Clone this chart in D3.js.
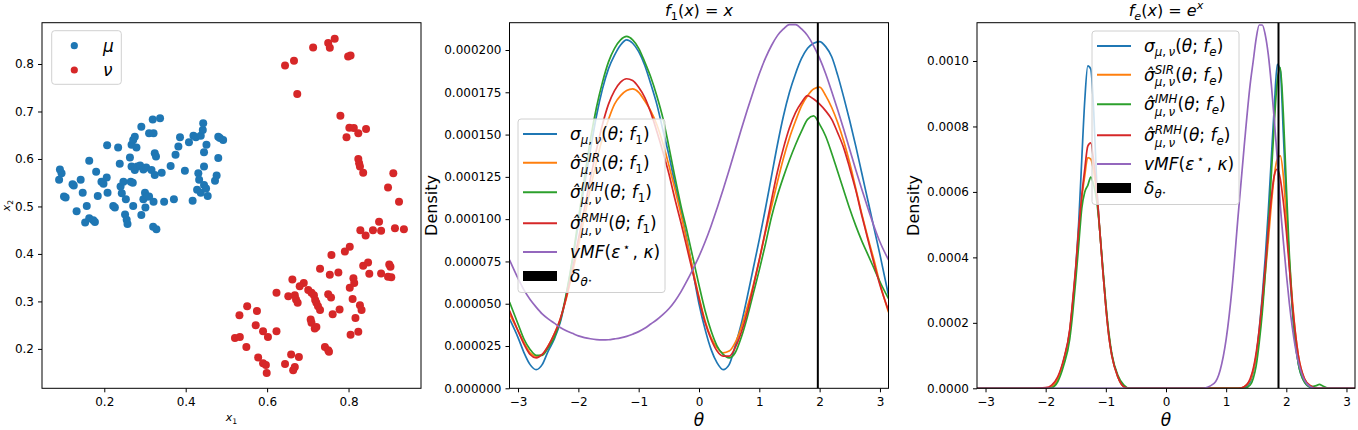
<!DOCTYPE html>
<html><head><meta charset="utf-8">
<script src="https://cdn.jsdelivr.net/npm/d3@7"></script>
<style>
body{margin:0;background:#fff}
text{font-family:"DejaVu Sans",sans-serif;fill:#000;white-space:pre}
</style>
</head><body>
<svg id="c" width="1358" height="430"></svg>
<script>
// ---------------- DATA ----------------
const muPoints = [[0.091,0.578],[0.095,0.570],[0.089,0.556],[0.101,0.521],[0.105,0.519],[0.122,0.547],[0.125,0.544],[0.142,0.556],[0.147,0.529],[0.132,0.490],[0.157,0.501],[0.153,0.466],[0.163,0.475],[0.173,0.471],[0.177,0.467],[0.163,0.596],[0.180,0.573],[0.184,0.522],[0.193,0.552],[0.207,0.629],[0.206,0.561],[0.208,0.529],[0.198,0.548],[0.222,0.501],[0.226,0.498],[0.234,0.624],[0.238,0.590],[0.240,0.542],[0.243,0.528],[0.247,0.552],[0.253,0.515],[0.251,0.483],[0.255,0.472],[0.257,0.463],[0.263,0.603],[0.267,0.584],[0.265,0.552],[0.270,0.550],[0.271,0.501],[0.267,0.630],[0.271,0.640],[0.275,0.647],[0.279,0.624],[0.275,0.577],[0.281,0.584],[0.291,0.668],[0.288,0.586],[0.291,0.482],[0.296,0.578],[0.303,0.582],[0.300,0.529],[0.296,0.515],[0.301,0.498],[0.306,0.521],[0.310,0.521],[0.316,0.577],[0.319,0.683],[0.310,0.654],[0.321,0.654],[0.324,0.612],[0.327,0.605],[0.324,0.566],[0.321,0.510],[0.320,0.457],[0.328,0.452],[0.337,0.686],[0.341,0.571],[0.347,0.510],[0.363,0.585],[0.371,0.515],[0.375,0.609],[0.382,0.626],[0.386,0.646],[0.398,0.575],[0.408,0.635],[0.417,0.512],[0.419,0.649],[0.425,0.646],[0.431,0.570],[0.428,0.535],[0.433,0.556],[0.437,0.649],[0.437,0.529],[0.442,0.661],[0.443,0.675],[0.445,0.614],[0.445,0.584],[0.445,0.545],[0.450,0.538],[0.451,0.630],[0.454,0.522],[0.472,0.554],[0.476,0.565],[0.480,0.602],[0.480,0.647],[0.484,0.644],[0.492,0.640]];
const nuPoints = [[0.644,0.797],[0.666,0.807],[0.674,0.737],[0.713,0.835],[0.750,0.844],[0.754,0.834],[0.766,0.853],[0.799,0.816],[0.805,0.818],[0.780,0.691],[0.795,0.646],[0.802,0.666],[0.813,0.665],[0.824,0.654],[0.843,0.663],[0.824,0.600],[0.826,0.591],[0.828,0.584],[0.836,0.571],[0.910,0.570],[0.897,0.540],[0.924,0.510],[0.875,0.468],[0.860,0.450],[0.880,0.449],[0.829,0.450],[0.842,0.439],[0.914,0.454],[0.936,0.452],[0.803,0.415],[0.791,0.405],[0.758,0.398],[0.836,0.375],[0.848,0.382],[0.900,0.378],[0.903,0.373],[0.730,0.369],[0.775,0.361],[0.754,0.356],[0.812,0.349],[0.814,0.339],[0.851,0.358],[0.880,0.359],[0.897,0.352],[0.905,0.351],[0.662,0.346],[0.690,0.339],[0.680,0.332],[0.701,0.324],[0.709,0.318],[0.715,0.313],[0.803,0.329],[0.623,0.318],[0.652,0.311],[0.668,0.313],[0.671,0.304],[0.675,0.297],[0.721,0.297],[0.725,0.290],[0.750,0.315],[0.757,0.308],[0.718,0.303],[0.810,0.305],[0.828,0.292],[0.832,0.282],[0.778,0.283],[0.730,0.282],[0.761,0.273],[0.532,0.271],[0.551,0.290],[0.575,0.280],[0.707,0.262],[0.709,0.255],[0.717,0.243],[0.721,0.246],[0.817,0.265],[0.572,0.250],[0.590,0.237],[0.602,0.225],[0.623,0.237],[0.805,0.230],[0.824,0.236],[0.521,0.223],[0.533,0.225],[0.549,0.204],[0.742,0.204],[0.750,0.197],[0.752,0.194],[0.578,0.182],[0.590,0.170],[0.597,0.166],[0.599,0.149],[0.644,0.168],[0.659,0.188],[0.664,0.155],[0.668,0.162],[0.678,0.183]];
const scatterXTicks = [0.2, 0.4, 0.6, 0.8];
const scatterYTicks = [0.2, 0.3, 0.4, 0.5, 0.6, 0.7, 0.8];

// Panel 2: f1(x)=x, densities in units of 1e-5
const UNIT_F1 = 1e-5;
const thetaF1 = [-3.14159,-3.0,-2.9,-2.8,-2.7,-2.6,-2.5,-2.4,-2.3,-2.2,-2.1,-2.0,-1.9,-1.8,-1.7,-1.6,-1.5,-1.4,-1.3,-1.2,-1.1,-1.0,-0.9,-0.8,-0.7,-0.6,-0.5,-0.4,-0.3,-0.2,-0.1,0,0.1,0.2,0.3,0.4,0.5,0.6,0.7,0.8,0.9,1.0,1.1,1.2,1.3,1.4,1.5,1.6,1.7,1.8,1.9,2.0,2.1,2.2,2.3,2.4,2.5,2.6,2.7,2.8,2.9,3.0,3.14159];
const sigmaF1 = [4.1,3.0,2.1,1.4,1.1,1.4,2.2,2.9,3.9,5.5,7.5,9.7,12.0,14.1,16.1,17.7,18.9,19.7,20.3,20.6,20.4,19.9,19.1,18.0,16.8,15.3,13.8,12.1,10.5,8.8,6.9,5.0,3.5,2.3,1.5,1.1,1.4,2.5,3.8,5.4,7.1,8.8,10.6,12.5,14.4,16.1,17.5,18.6,19.5,20.1,20.4,20.5,20.2,19.6,18.5,17.2,15.8,14.3,12.7,11.1,9.5,7.9,5.5];
const sirF1 = [4.4,3.4,2.7,2.1,1.9,2.0,2.5,3.2,4.1,5.3,6.8,8.4,10.1,11.8,13.4,14.8,15.9,16.8,17.3,17.6,17.7,17.5,17.0,16.4,15.6,14.5,13.2,11.8,10.3,8.7,7.0,5.4,4.0,3.0,2.4,2.1,2.2,2.7,3.6,4.8,6.1,7.6,9.2,10.7,12.2,13.6,14.8,15.8,16.7,17.3,17.7,17.8,17.3,16.6,15.7,14.6,13.3,11.8,10.3,8.9,7.6,6.2,4.5];
const imhF1 = [5.1,3.8,2.9,2.3,1.95,1.95,2.4,3.0,4.0,5.6,7.6,10.0,12.4,14.7,16.6,18.1,19.3,20.1,20.6,20.8,20.6,20.1,19.3,18.4,17.3,16.0,14.3,12.5,10.8,9.3,7.7,6.1,4.6,3.4,2.5,2.0,1.8,2.1,3.0,4.2,5.6,7.0,8.5,10.1,11.4,12.5,13.5,14.4,15.2,15.9,16.1,15.6,14.9,13.9,12.8,11.7,10.6,9.6,8.7,7.9,7.1,6.3,5.3];
const rmhF1 = [4.6,3.4,2.6,2.0,1.8,2.0,2.5,3.2,4.1,5.4,7.0,8.8,10.6,12.4,14.1,15.6,16.8,17.6,18.1,18.3,18.2,17.8,17.2,16.3,15.2,14.0,12.7,11.2,9.8,8.3,6.8,5.3,3.9,2.9,2.2,1.9,1.9,2.4,3.3,4.5,6.0,7.6,9.3,11.1,12.8,14.2,15.4,16.3,16.9,17.3,17.1,16.8,16.4,15.9,15.1,14.2,13.0,11.7,10.2,8.8,7.4,6.1,4.6];
const vmfF1 = [7.6,6.5,5.8,5.25,4.8,4.4,4.1,3.85,3.6,3.4,3.25,3.1,3.0,2.93,2.88,2.86,2.87,2.92,2.98,3.07,3.2,3.35,3.55,3.8,4.05,4.35,4.7,5.15,5.7,6.35,7.05,7.8,8.65,9.6,10.65,11.75,12.9,14.1,15.3,16.45,17.55,18.6,19.5,20.25,20.85,21.25,21.5,21.5,21.25,20.85,20.25,19.5,18.6,17.55,16.45,15.3,14.1,12.9,11.75,10.65,9.6,8.65,7.6];
const thetaStarF1 = 1.97;
const yTicksF1 = [0, 2.5, 5, 7.5, 10, 12.5, 15, 17.5, 20];

// Panel 3: fe(x)=e^x, densities in units of 1e-4
const UNIT_FE = 1e-4;
const thetaFe = [-3.14159,-2.2,-2.0,-1.9,-1.8,-1.7,-1.6,-1.55,-1.5,-1.45,-1.4,-1.35,-1.3,-1.25,-1.2,-1.15,-1.1,-1.05,-1.0,-0.95,-0.9,-0.8,-0.7,-0.6,-0.4,0.6,0.8,0.9,1.0,1.1,1.2,1.3,1.4,1.45,1.5,1.55,1.6,1.65,1.7,1.75,1.8,1.85,1.9,1.95,2.0,2.05,2.1,2.15,2.2,2.3,2.4,2.5,2.55,2.6,2.7,2.9,3.14159];
const sigmaFe = [0,0,0,0.05,0.3,0.85,1.75,2.6,3.7,5.1,7.0,8.8,9.85,9.75,8.4,6.2,4.8,3.6,2.5,1.6,1.0,0.35,0.05,0,0, 0,0,0,0,0,0,0.02,0.2,0.5,1.0,1.8,2.8,4.0,5.4,7.0,8.6,9.9,9.7,7.8,5.7,3.8,2.4,1.4,0.75,0.2,0.03,0,0,0,0,0,0];
const sirFe = [0,0,0,0.05,0.3,0.85,1.75,2.6,3.6,4.8,5.8,6.5,7.05,7.0,6.6,5.9,4.8,3.6,2.5,1.6,1.0,0.35,0.05,0,0, 0,0,0,0,0,0,0.05,0.25,0.55,1.0,1.7,2.5,3.5,4.5,5.6,6.5,7.0,7.1,6.5,5.2,3.9,2.7,1.7,1.0,0.3,0.08,0,0,0,0,0,0];
const imhFe = [0,0,0,0.02,0.2,0.7,1.5,2.3,3.3,4.4,5.5,6.0,6.2,6.45,6.2,5.7,4.8,3.7,2.6,1.7,1.05,0.4,0.1,0,0, 0,0,0,0,0,0,0,0.1,0.3,0.7,1.4,2.3,3.5,4.9,6.5,8.1,9.4,9.8,8.4,6.2,4.1,2.5,1.4,0.75,0.2,0.05,0.08,0.12,0.08,0,0,0];
const rmhFe = [0,0,0.02,0.1,0.35,0.9,1.8,2.7,3.7,4.9,5.9,6.7,7.4,7.5,6.9,6.0,4.8,3.6,2.5,1.6,1.0,0.35,0.05,0,0, 0,0,0,0,0,0,0.05,0.3,0.6,1.1,1.8,2.7,3.7,4.8,5.8,6.5,6.7,6.4,5.7,4.8,3.7,2.6,1.7,1.0,0.3,0.08,0,0,0,0,0,0];
const vmfFe = [0,0,0,0,0,0,0,0,0,0,0,0,0,0,0,0,0,0,0,0,0,0,0,0,0, 0,0.15,0.55,1.5,3.1,5.3,7.4,9.3,10.0,10.7,11.1,11.1,10.8,10.2,9.3,8.2,7.0,5.6,4.5,3.5,2.6,1.85,1.25,0.8,0.25,0.05,0,0,0,0,0,0];
const thetaStarFe = 1.87;
const yTicksFe = [0, 2, 4, 6, 8, 10];
const thetaTicks = [-3, -2, -1, 0, 1, 2, 3];

const COLORS = ["#1f77b4", "#ff7f0e", "#2ca02c", "#d62728", "#9467bd"];

// ---------------- HELPERS ----------------
const svg = d3.select("#c");
const I = t => ({t, it: true});
const R = t => ({t, it: false});
const SP = "\u00a0";      // normal space
const TSP = "\u2009";     // thin space

function mathText(parent, parts, fs) {
  const g = parent.append("g");
  let x = 0;
  function place(tok, x0, dy, size) {
    const s = size * (tok.s || 1);
    const el = g.append("text").attr("x", x0).attr("y", dy + (tok.dy || 0) * size)
      .attr("font-size", s).attr("font-style", tok.it ? "italic" : "normal").text(tok.t);
    return el.node().getComputedTextLength();
  }
  parts.forEach(p => {
    if (p.sup || p.sub) {
      const both = p.sup && p.sub;
      let w1 = 0, w2 = 0;
      if (p.sup) { let xx = x; p.sup.forEach(tk => { xx += place(tk, xx, -0.42 * fs, 0.7 * fs); }); w1 = xx - x; }
      if (p.sub) { let xx = x; p.sub.forEach(tk => { xx += place(tk, xx, (both ? 0.32 : 0.24) * fs, 0.7 * fs); }); w2 = xx - x; }
      x += Math.max(w1, w2);
    } else {
      x += place(p, x, 0, fs);
    }
  });
  return {g, w: x};
}

function drawFrame(g, x0, y0, w, h) {
  g.append("rect").attr("x", x0).attr("y", y0).attr("width", w).attr("height", h)
    .attr("fill", "none").attr("stroke", "#000").attr("stroke-width", 1);
}

function styleAxis(sel) {
  sel.select(".domain").remove();
  sel.selectAll(".tick line").attr("stroke", "#000").attr("stroke-width", 1);
  sel.selectAll(".tick text").attr("font-size", 12).attr("fill", "#000")
    .attr("font-family", "DejaVu Sans");
}

// ---------------- PANEL 1: scatter ----------------
(function () {
  const L = 42, T = 22.7, W = 379, H = 365.6;
  const x = d3.scaleLinear().domain([0.047, 0.978]).range([L, L + W]);
  const y = d3.scaleLinear().domain([0.117, 0.887]).range([T + H, T]);
  const g = svg.append("g");
  g.append("g").selectAll("circle").data(muPoints).join("circle")
    .attr("cx", d => x(d[0])).attr("cy", d => y(d[1])).attr("r", 4).attr("fill", COLORS[0]);
  g.append("g").selectAll("circle").data(nuPoints).join("circle")
    .attr("cx", d => x(d[0])).attr("cy", d => y(d[1])).attr("r", 4).attr("fill", COLORS[3]);
  const ax = g.append("g").attr("transform", `translate(0,${T + H})`)
    .call(d3.axisBottom(x).tickValues(scatterXTicks).tickFormat(d3.format(".1f")).tickSize(4).tickPadding(5));
  styleAxis(ax);
  const ay = g.append("g").attr("transform", `translate(${L},0)`)
    .call(d3.axisLeft(y).tickValues(scatterYTicks).tickFormat(d3.format(".1f")).tickSize(4).tickPadding(4));
  styleAxis(ay);
  drawFrame(g, L, T, W, H);
  // legend
  g.append("rect").attr("x", 51.7).attr("y", 30.7).attr("width", 69.6).attr("height", 53.6)
    .attr("rx", 3).attr("fill", "#fff").attr("fill-opacity", 0.8).attr("stroke", "#d0d0d0");
  [[COLORS[0], "μ", 45.7], [COLORS[3], "ν", 70]].forEach(([c, s, yy]) => {
    g.append("circle").attr("cx", 74.3).attr("cy", yy).attr("r", 3.6).attr("fill", c);
    g.append("text").attr("x", 103).attr("y", yy + 6).attr("font-size", 17).attr("font-style", "italic").text(s);
  });
  // axis labels
  const xl = mathText(g, [I("x"), {sub: [R("1")]}], 11);
  xl.g.attr("transform", `translate(${L + W / 2 - xl.w / 2},${421})`);
  const yl = mathText(g, [I("x"), {sub: [R("2")]}], 11);
  yl.g.attr("transform", `translate(${10},${T + H / 2 + yl.w / 2}) rotate(-90)`);
})();

// ---------------- density panels ----------------
function densityPanel(opt) {
  const {L, T, W, H, theta, series, ymax, yTicks, yFmt, thetaStar, title, fsub, legendLeft, legendTop, clipId, ylabOffset} = opt;
  const g = svg.append("g");
  const x = d3.scaleLinear().domain([-Math.PI, Math.PI]).range([L, L + W]);
  const y = d3.scaleLinear().domain([0, ymax]).range([T + H, T]);
  g.append("clipPath").attr("id", clipId).append("rect").attr("x", L).attr("y", T).attr("width", W).attr("height", H);
  const plot = g.append("g").attr("clip-path", `url(#${clipId})`);
  const line = d3.line().x((d, i) => x(theta[i])).y(d => y(d)).curve(d3.curveMonotoneX);
  series.forEach((s, k) => {
    plot.append("path").datum(s).attr("d", line).attr("fill", "none")
      .attr("stroke", COLORS[k]).attr("stroke-width", 1.7).attr("stroke-linejoin", "round");
  });
  plot.append("line").attr("x1", x(thetaStar)).attr("x2", x(thetaStar)).attr("y1", T).attr("y2", T + H)
    .attr("stroke", "#000").attr("stroke-width", 2);

  const ax = g.append("g").attr("transform", `translate(0,${T + H})`)
    .call(d3.axisBottom(x).tickValues(thetaTicks).tickFormat(d3.format("d")).tickSize(4).tickPadding(5));
  styleAxis(ax);
  const ay = g.append("g").attr("transform", `translate(${L},0)`)
    .call(d3.axisLeft(y).tickValues(yTicks).tickFormat(yFmt).tickSize(4).tickPadding(4));
  styleAxis(ay);
  drawFrame(g, L, T, W, H);

  // axis labels
  g.append("text").attr("transform", `translate(${L - ylabOffset},${T + H / 2}) rotate(-90)`)
    .attr("text-anchor", "middle").attr("dominant-baseline", "central").attr("font-size", 16).text("Density");
  g.append("text").attr("x", L + W / 2).attr("y", 426).attr("text-anchor", "middle")
    .attr("font-size", 17).attr("font-style", "italic").text("θ");
  // title
  const tt = mathText(g, title, 16);
  tt.g.attr("transform", `translate(${L + W / 2 - tt.w / 2},${16})`);

  // legend
  const lw = 147, lh = 173.5;
  g.append("rect").attr("x", legendLeft).attr("y", legendTop).attr("width", lw).attr("height", lh)
    .attr("rx", 3).attr("fill", "#fff").attr("fill-opacity", 0.8).attr("stroke", "#d0d0d0");
  const fArg = [R("("), I("θ"), R(";" + SP), I("f"), {sub: [fsub]}, R(")")];
  const muNu = [I("μ"), R("," + TSP), I("ν")];
  const labels = [
    [I("σ"), {sub: muNu}, ...fArg],
    [I("σ\u0302"), {sup: [I("SIR")], sub: muNu}, ...fArg],
    [I("σ\u0302"), {sup: [I("IMH")], sub: muNu}, ...fArg],
    [I("σ\u0302"), {sup: [I("RMH")], sub: muNu}, ...fArg],
    [I("vMF"), R("("), I("ε"), {sup: [R(TSP + "⋆" + TSP)]}, R("," + SP), I("κ"), R(")")],
    [I("δ"), {sub: [I("θ"), {t: "⋆", it: false, s: 0.6, dy: -0.25}]}]
  ];
  const rowY = [15, 43.7, 73.3, 104.2, 133, 157];
  labels.forEach((lab, k) => {
    const yy = legendTop + rowY[k];
    if (k < 5) {
      g.append("line").attr("x1", legendLeft + 5).attr("x2", legendLeft + 39).attr("y1", yy).attr("y2", yy)
        .attr("stroke", COLORS[k]).attr("stroke-width", 2);
    } else {
      g.append("rect").attr("x", legendLeft + 5).attr("y", yy - 5).attr("width", 34).attr("height", 10).attr("fill", "#000");
    }
    const m = mathText(g, lab, 17);
    m.g.attr("transform", `translate(${legendLeft + 52},${yy + 6})`);
  });
}

densityPanel({
  L: 509.5, T: 22.7, W: 379, H: 365.6, theta: thetaF1,
  series: [sigmaF1, sirF1, imhF1, rmhF1, vmfF1].map(a => a.map(v => v * UNIT_F1)),
  ymax: 0.00021614,
  yTicks: yTicksF1.map(v => v * UNIT_F1), yFmt: v => v.toFixed(6),
  thetaStar: thetaStarF1,
  title: [I("f"), {sub: [R("1")]}, R("("), I("x"), R(")" + SP + "=" + SP), I("x")],
  fsub: R("1"), legendLeft: 518, legendTop: 119, clipId: "clipA", ylabOffset: 78
});

densityPanel({
  L: 977, T: 22.7, W: 378, H: 365.6, theta: thetaFe,
  series: [sigmaFe, sirFe, imhFe, rmhFe, vmfFe].map(a => a.map(v => v * UNIT_FE)),
  ymax: 0.001117,
  yTicks: yTicksFe.map(v => v * UNIT_FE), yFmt: v => v.toFixed(4),
  thetaStar: thetaStarFe,
  title: [I("f"), {sub: [I("e")]}, R("("), I("x"), R(")" + SP + "=" + SP), I("e"), {sup: [I("x")]}],
  fsub: I("e"), legendLeft: 1092, legendTop: 31, clipId: "clipB", ylabOffset: 64
});
</script>
</body></html>
